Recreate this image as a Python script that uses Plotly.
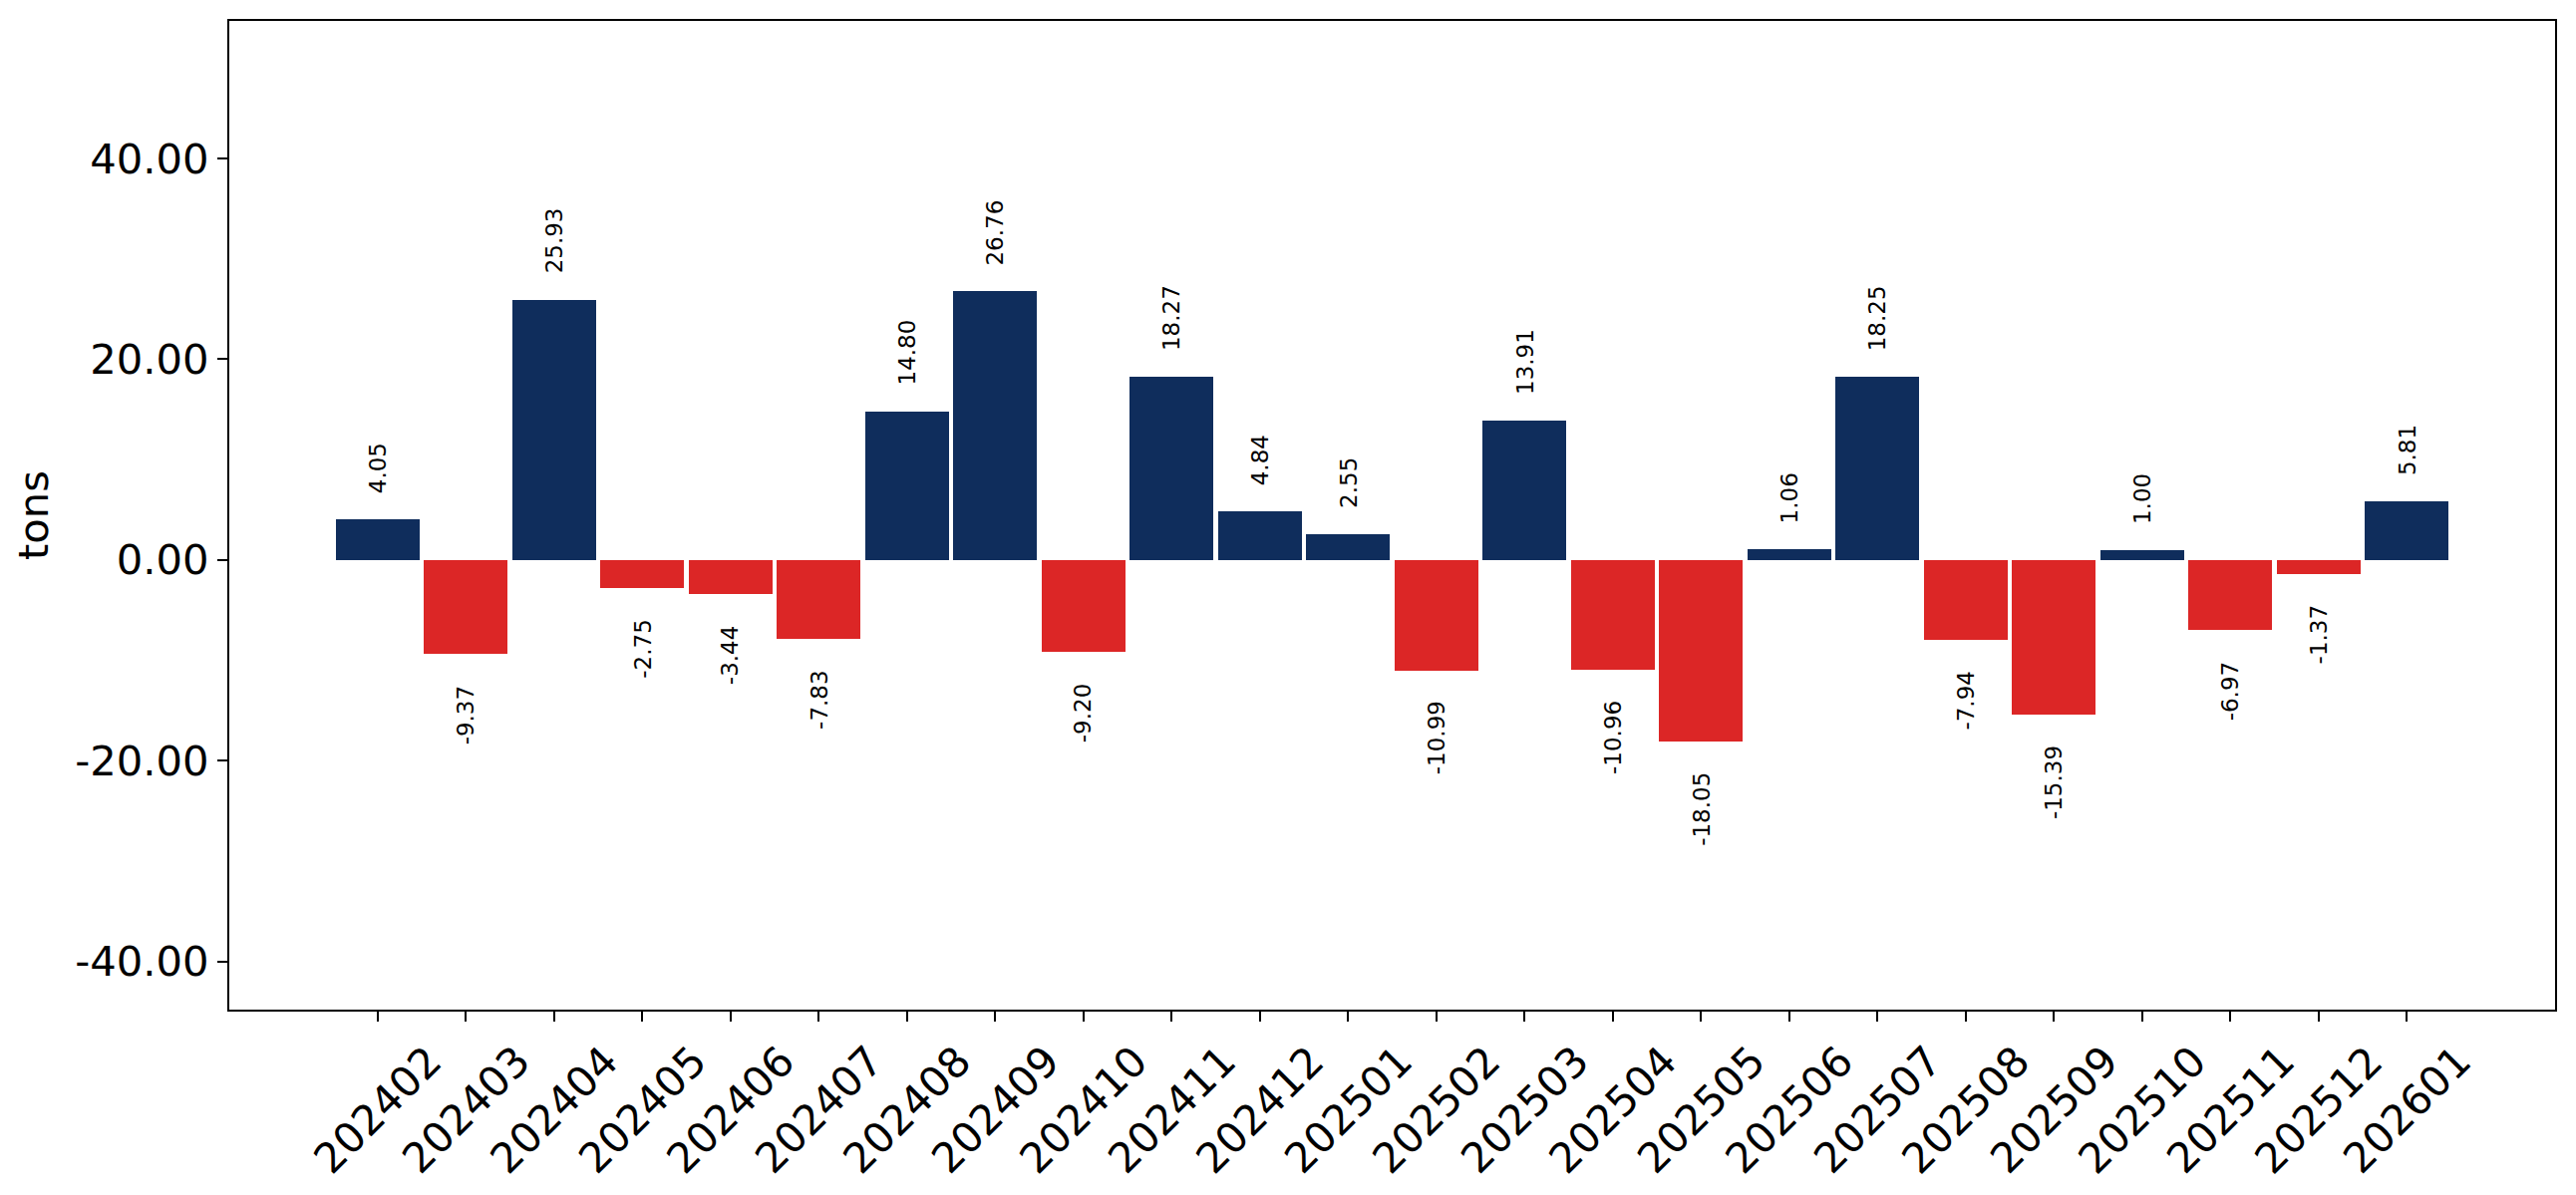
import plotly.graph_objects as go

months = ["202402", "202403", "202404", "202405", "202406", "202407", "202408",
          "202409", "202410", "202411", "202412", "202501", "202502", "202503",
          "202504", "202505", "202506", "202507", "202508", "202509", "202510",
          "202511", "202512", "202601"]
values = [4.05, -9.37, 25.93, -2.75, -3.44, -7.83, 14.80, 26.76, -9.20, 18.27,
          4.84, 2.55, -10.99, 13.91, -10.96, -18.05, 1.06, 18.25, -7.94, -15.39,
          1.00, -6.97, -1.37, 5.81]
y_tickvals = [-40, -20, 0, 20, 40]
y_ticktext = ["-40.00", "-20.00", "0.00", "20.00", "40.00"]

NAVY = "#0f2d5c"
RED = "#dc2626"
FONT = "DejaVu Sans"

colors = [NAVY if v >= 0 else RED for v in values]

fig = go.Figure()
fig.add_trace(go.Bar(
    x=months, y=values, width=0.95,
    marker=dict(color=colors, line=dict(width=0)),
    showlegend=False, hoverinfo="x+y",
))

annotations = []
for i, v in enumerate(values):
    pos = v >= 0
    annotations.append(dict(
        x=i, y=v, xref="x", yref="y", text=f"{v:.2f}", showarrow=False,
        textangle=-90, xanchor="center", yanchor="bottom" if pos else "top",
        yshift=24 if pos else -29,
        font=dict(family=FONT, size=23, color="black"),
    ))
for i, m in enumerate(months):
    annotations.append(dict(
        x=i, y=0, xref="x", yref="paper", text=m, showarrow=False,
        textangle=-45, xanchor="center", yanchor="top", yshift=-24,
        font=dict(family=FONT, size=41.7, color="black"),
    ))

fig.update_layout(
    width=2584, height=1199,
    margin=dict(l=230, r=21, t=21, b=186, pad=0),
    paper_bgcolor="white", plot_bgcolor="white",
    font=dict(family=FONT, size=41.7, color="black"),
    bargap=0,
    annotations=annotations,
    xaxis=dict(
        type="category", range=[-1.68, 24.68],
        showgrid=False, zeroline=False,
        showline=True, linecolor="black", linewidth=2.2, mirror=True,
        ticks="outside", ticklen=10, tickwidth=2.2, tickcolor="black",
        showticklabels=False,
    ),
    yaxis=dict(
        range=[-44.8, 53.7], tickvals=y_tickvals, ticktext=y_ticktext,
        showgrid=False, zeroline=False,
        showline=True, linecolor="black", linewidth=2.2, mirror=True,
        ticks="outside", ticklen=10, tickwidth=2.2, tickcolor="black",
        tickfont=dict(family=FONT, size=41.7, color="black"),
        title=dict(text="tons", font=dict(family=FONT, size=41.7, color="black"), standoff=14),
    ),
)

fig.write_html("out.html")
